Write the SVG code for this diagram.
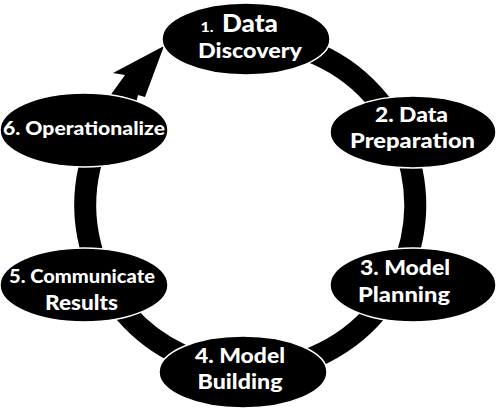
<svg xmlns="http://www.w3.org/2000/svg" width="500" height="409" viewBox="0 0 500 409">
<style>
.node ellipse{fill:#000;stroke:#fff;stroke-width:1.5}
.node text{fill:#fff;font-family:Lato,"Liberation Sans",sans-serif;font-weight:900;text-anchor:middle}
.ring{fill:none;stroke:#000;stroke-width:22}
</style>
<rect width="500" height="409" fill="#fff"/>
<g id="connectors">
<path class="ring" d="M250 40 A165 165 0 1 1 119 105"/>
<polygon points="106,104 112,93 125,75 113,73 164,46 145,97 138,95 134,112 108,112" fill="#000"/>
</g>
<g id="node1" class="node">
<ellipse cx="246" cy="39" rx="84" ry="36"/>
<text x="207" y="32" font-size="14" textLength="13" lengthAdjust="spacingAndGlyphs">1.</text>
<text x="250" y="32" font-size="24" textLength="56" lengthAdjust="spacingAndGlyphs">Data</text>
<text x="250" y="58" font-size="21" textLength="104" lengthAdjust="spacingAndGlyphs">Discovery</text>
</g>
<g id="node2" class="node">
<ellipse cx="413" cy="132" rx="83" ry="36"/>
<text x="411.5" y="122" font-size="20" textLength="73" lengthAdjust="spacingAndGlyphs">2. Data</text>
<text x="412.5" y="148" font-size="21" textLength="125" lengthAdjust="spacingAndGlyphs">Preparation</text>
</g>
<g id="node3" class="node">
<ellipse cx="413" cy="285" rx="83" ry="37"/>
<text x="405" y="275" font-size="21" textLength="90" lengthAdjust="spacingAndGlyphs">3. Model</text>
<text x="404" y="302" font-size="21" textLength="92" lengthAdjust="spacingAndGlyphs">Planning</text>
</g>
<g id="node4" class="node">
<ellipse cx="243" cy="372" rx="84" ry="36"/>
<text x="240" y="363" font-size="21" textLength="90" lengthAdjust="spacingAndGlyphs">4. Model</text>
<text x="240" y="389" font-size="21" textLength="85" lengthAdjust="spacingAndGlyphs">Building</text>
</g>
<g id="node5" class="node">
<ellipse cx="84" cy="285" rx="84" ry="37"/>
<text x="82" y="283" font-size="18" textLength="146" lengthAdjust="spacingAndGlyphs">5. Communicate</text>
<text x="81.5" y="310" font-size="20" textLength="73" lengthAdjust="spacingAndGlyphs">Results</text>
</g>
<g id="node6" class="node">
<ellipse cx="84" cy="130" rx="84" ry="37"/>
<text x="84" y="135" font-size="19" textLength="162" lengthAdjust="spacingAndGlyphs">6. Operationalize</text>
</g>
</svg>
